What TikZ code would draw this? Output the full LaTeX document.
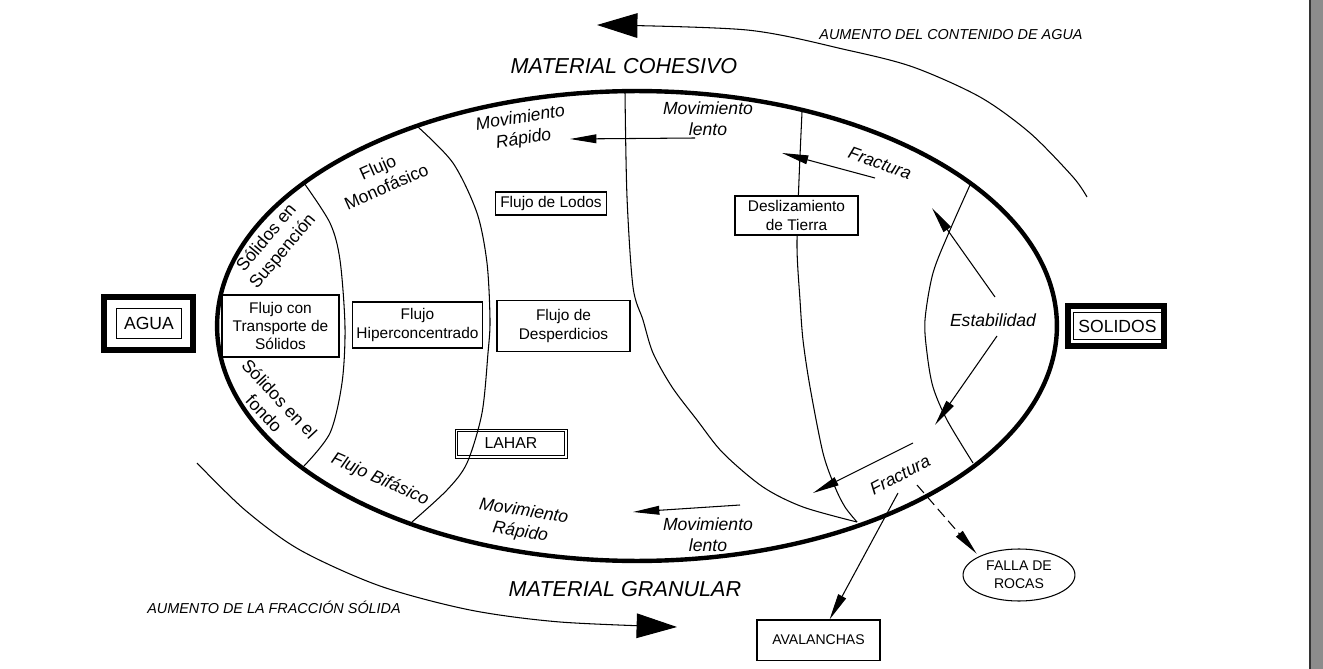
\documentclass[tikz,border=0pt]{standalone}
\usepackage{fontspec}
\setmainfont{Liberation Sans}
\usetikzlibrary{arrows.meta,shapes.geometric}

\begin{document}
\begin{tikzpicture}[
  x=0.02cm, y=-0.02cm,
  box/.style={draw,fill=white,line width=0.6pt,align=center,inner sep=0pt,font=\fontsize{8.8}{10.4}\selectfont},
  frame/.style={draw,line width=3.4pt,inner sep=0pt},
  lbl/.style={align=center,inner sep=0pt,font=\fontsize{10}{12}\selectfont\itshape},
  rlbl/.style={align=center,inner sep=0pt,font=\fontsize{10}{12}\selectfont},
  title/.style={inner sep=0pt,font=\fontsize{12.3}{14}\selectfont\itshape},
  aum/.style={inner sep=0pt,font=\fontsize{8.2}{10}\selectfont\itshape},
  zone/.style={line width=0.6pt},
  arr/.style={line width=0.6pt,-{Triangle[length=15pt,width=5pt]}},
  bigarr/.style={line width=0.6pt,-{Triangle[length=23pt,width=14pt]}}
]
  \useasboundingbox (0,0) rectangle (1323,669);
  \fill[black!45] (1309,0) rectangle (1323,669);
  \draw[black!80,line width=1.4pt] (1310,0) -- (1310,669);

  \draw[line width=2.5pt] (637,326) ellipse [x radius=8.4cm, y radius=4.7cm];

  \draw[zone] plot[smooth] coordinates {(304,183) (330,223) (340,260) (345,327) (342,383) (330,433) (304,466)};
  \draw[zone] plot[smooth] coordinates {(418,127) (453,163) (477,213) (487,263) (490,320) (488,353) (482,413) (467,463) (447,490) (412,522)};
  \draw[zone] plot[smooth] coordinates {(625,92) (627,197) (633,287) (643,320) (653,353) (672,387) (697,420) (723,453) (763,487) (803,507) (857,522)};
  \draw[zone] plot[smooth] coordinates {(802,112) (799,180) (797,247) (800,300) (803,340) (810,387) (823,453) (835,487) (845,507) (857,522)};
  \draw[zone] plot[smooth] coordinates {(970,185) (950,230) (933,273) (925,320) (927,353) (933,387) (947,420) (973,463)};

  \node[frame,minimum width=51.2pt,minimum height=30.7pt] (aguaframe) at (148.5,323.5) {};
  \node[box,minimum width=37.5pt,minimum height=17pt,font=\fontsize{10}{12}\selectfont] (agua) at (149,323.5) {AGUA};
  \node[frame,minimum width=54.6pt,minimum height=22.8pt] (solidosframe) at (1116,326) {};
  \node[box,minimum width=50.6pt,minimum height=15.9pt,font=\fontsize{10}{12}\selectfont] (solidos) at (1117.5,326) {SOLIDOS};

  \node[box,minimum width=66.6pt,minimum height=35.3pt] (transporte) at (280.5,326) {Flujo con\\Transporte de\\Sólidos};
  \node[box,minimum width=74.5pt,minimum height=26.2pt] (hiper) at (417.5,325) {Flujo\\Hiperconcentrado};
  \node[box,minimum width=75.7pt,minimum height=28.5pt] (desperdicios) at (563.5,326) {Flujo de\\Desperdicios};
  \node[box,minimum width=63.7pt,minimum height=13.1pt] (lodos) at (551,203.5) {Flujo de Lodos};
  \node[box,minimum width=70pt,minimum height=22.2pt] (deslizamiento) at (796.5,215.5) {Deslizamiento\\de Tierra};
  \node[draw,line width=0.5pt,minimum width=63.7pt,minimum height=16.5pt] (laharframe) at (511,443.5) {};
  \node[box,fill=none,line width=0.5pt,minimum width=60.6pt,minimum height=13.4pt,font=\fontsize{9}{11}\selectfont] (lahar) at (511,443.5) {LAHAR};
  \node[box,minimum width=70pt,minimum height=22.8pt,font=\fontsize{8}{10}\selectfont] (avalanchas) at (818.5,640) {AVALANCHAS};
  \node[box,ellipse,minimum width=63.7pt,minimum height=29.6pt,font=\fontsize{8}{10}\selectfont] (falla) at (1019,575) {FALLA DE\\ROCAS};

  \node[title] (cohesivo) at (624,66) {MATERIAL COHESIVO};
  \node[title] (granular) at (625,589) {MATERIAL GRANULAR};
  \node[aum] (aumagua) at (951,35) {AUMENTO DEL CONTENIDO DE AGUA};
  \node[aum] (aumsolida) at (274,607) {AUMENTO DE LA FRACCIÓN SÓLIDA};

  \node[lbl,rotate=9] (movrapA) at (522,129) {Movimiento\\Rápido};
  \node[lbl] (movlentoA) at (708,119) {Movimiento\\lento};
  \node[lbl,rotate=-20] (fracturaA) at (880,163) {Fractura};
  \node[lbl] (estab) at (993,320) {Estabilidad};
  \node[lbl,rotate=28] (fracturaB) at (900,475) {Fractura};
  \node[lbl] (movlentoB) at (708,535) {Movimiento\\lento};
  \node[lbl,rotate=-9] (movrapB) at (522,522) {Movimiento\\Rápido};
  \node[lbl,rotate=-24] (bifasico) at (380,480) {Flujo Bifásico};
  \node[rlbl,rotate=24] (monofasico) at (382,177) {Flujo\\Monofásico};
  \node[rlbl,rotate=50] (suspension) at (275,245) {Sólidos en\\Suspención};
  \node[rlbl,rotate=-47] (fondo) at (272,406) {Sólidos en el\\fondo};

  \coordinate (aguaS) at (1087,197);
  \coordinate (aguaE) at (597,25);
  \coordinate (solS) at (197,463);
  \coordinate (solE) at (677,627);
  \coordinate (mrS) at (695,138);
  \coordinate (mrE) at (570,139);
  \coordinate (faS) at (875,178);
  \coordinate (faE) at (782,153);
  \coordinate (euS) at (995,297);
  \coordinate (euE) at (932,208);
  \coordinate (edS) at (997,336);
  \coordinate (edE) at (935,425);
  \coordinate (fbS) at (913,443);
  \coordinate (fbE) at (813,493);
  \coordinate (mlS) at (740,505);
  \coordinate (mlE) at (633,512);
  \coordinate (avS) at (898,493);
  \coordinate (fpS) at (917,485);

  \draw[bigarr] plot[smooth] coordinates {(aguaS) (1073,177) (1030,133) (980,97) (913,67) (847,50) (747,30) (aguaE)};
  \draw[bigarr] plot[smooth] coordinates {(solS) (245,510) (300,550) (380,586) (470,610) (560,622) (solE)};
  \draw[arr] (mrS) -- (mrE);
  \draw[arr] (faS) -- (faE);
  \draw[arr] (euS) -- (euE);
  \draw[arr] (edS) -- (edE);
  \draw[arr] (fbS) -- (fbE);
  \draw[arr] (mlS) -- (mlE);
  \draw[arr] (avS) -- (avalanchas);
  \draw[arr,dash pattern=on 6pt off 3pt,shorten >=2pt] (fpS) -- (falla.155);
\end{tikzpicture}
\end{document}
